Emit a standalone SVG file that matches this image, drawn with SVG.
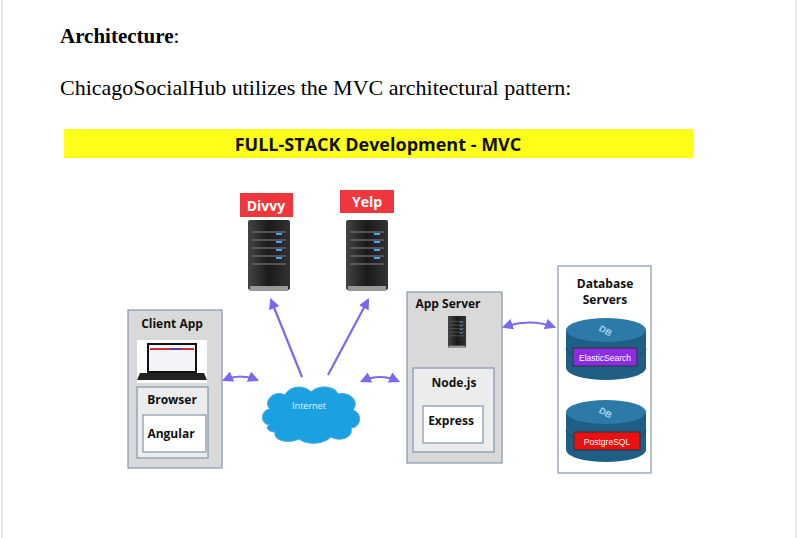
<svg xmlns="http://www.w3.org/2000/svg" width="800" height="538" viewBox="0 0 800 538">
<defs>
<style>
.b{font-family:"Open Sans","Liberation Sans",sans-serif;font-weight:bold;fill:#111}
.box{fill:#d9d9d9;stroke:#8497b0;stroke-width:1.2}
.wb{fill:#fff;stroke:#8497b0;stroke-width:1.2}
.ar{stroke:#7b68ee;stroke-width:2.2;fill:none}
.lbl{fill:#f0373d}
</style>
<marker id="ah" viewBox="0 0 10 10" refX="8" refY="5" markerWidth="5" markerHeight="5" orient="auto-start-reverse"><path d="M0,0L10,5L0,10z" fill="#7b68ee"/></marker>
<linearGradient id="sv" x1="0" x2="1"><stop offset="0" stop-color="#444"/><stop offset="0.5" stop-color="#1a1a1a"/><stop offset="1" stop-color="#333"/></linearGradient>
<g id="srv">
<rect x="0" y="0" width="42" height="70" fill="url(#sv)" rx="2"/>
<path d="M4,12h34M4,20h34M4,28h34M4,36h34M4,44h34" stroke="#666" stroke-width="1.5"/>
<path d="M28,14h6M28,22h6M28,30h6M28,38h6" stroke="#3fa9f5" stroke-width="2"/>
<rect x="2" y="66" width="38" height="5" fill="#999"/>
</g>
<g id="cyl">
<path d="M0,12v38a40,12 0 0 0 80,0v-38z" fill="#1f5f86"/>
<ellipse cx="40" cy="12" rx="40" ry="12" fill="#2c7aa8"/>
<path d="M0,30a40,12 0 0 0 80,0" stroke="#174a6a" fill="none"/>
<text x="40" y="16" font-family="Liberation Sans,sans-serif" font-size="9" font-weight="bold" fill="#a9d3ee" text-anchor="middle" transform="rotate(30 40 12)">DB</text>
</g>
</defs>
<rect width="800" height="538" fill="#fff"/>
<path d="M2,0V538M796,0V538" stroke="#d0d0d0"/>
<text x="60" y="43" font-family="Liberation Serif,serif" font-size="21"><tspan font-weight="bold">Architecture</tspan>:</text>
<text x="60" y="95" font-family="Liberation Serif,serif" font-size="22">ChicagoSocialHub utilizes the MVC architectural pattern:</text>
<g id="title"><rect x="64" y="129" width="629" height="29" fill="#ffff1a"/>
<text x="378" y="151" class="b" font-size="18" text-anchor="middle">FULL-STACK Development - MVC</text></g>
<g id="divvy"><rect class="lbl" x="240" y="193" width="53" height="24"/><text x="266" y="211" font-family="Open Sans,Liberation Sans,sans-serif" font-weight="bold" font-size="14" fill="#fff" text-anchor="middle">Divvy</text>
<use href="#srv" x="248" y="220"/></g>
<g id="yelp"><rect class="lbl" x="340" y="190" width="54" height="23"/><text x="367" y="207" font-family="Open Sans,Liberation Sans,sans-serif" font-weight="bold" font-size="14" fill="#fff" text-anchor="middle">Yelp</text>
<use href="#srv" x="346" y="220"/></g>
<g id="client"><rect class="box" x="128" y="310" width="94" height="158"/>
<text x="172" y="328" class="b" font-size="12" text-anchor="middle">Client App</text>
<rect x="137" y="340" width="70" height="43" fill="#fff"/>
<path d="M147,343h50v30h-50z" fill="#111"/><rect x="149" y="345" width="46" height="26" fill="#f3f3f8"/>
<path d="M150,349h44" stroke="#c33" stroke-width="2"/><path d="M170,349h12" stroke="#639" stroke-width="2"/>
<path d="M140,373h64l3,7h-70z" fill="#222"/>
<rect class="wb" x="137" y="387" width="71" height="71" style="fill:#ececec"/>
<text x="172" y="404" class="b" font-size="12" text-anchor="middle">Browser</text>
<rect class="wb" x="143" y="415" width="63" height="37"/>
<text x="171" y="438" class="b" font-size="12" text-anchor="middle">Angular</text></g>
<g id="internet"><path d="M270,425c-10,0-10-15,0-16c-8-8,5-20,15-14c5-10,20-10,26-3c8-8,24-6,27,2c12-3,22,8,15,16c10,3,8,18-2,18c3,10-12,14-20,9c-8,8-25,8-32,2c-10,5-26,2-24-7c-8,0-10-6-5-7z" fill="#1ba1e2" stroke="#4aa8d8"/>
<text x="309" y="409" font-family="Open Sans,Liberation Sans,sans-serif" font-size="9" fill="#e8f6ff" text-anchor="middle">Internet</text></g>
<g id="app"><rect class="box" x="407" y="292" width="95" height="171"/>
<text x="448" y="308" class="b" font-size="12" text-anchor="middle">App Server</text>
<use href="#srv" transform="translate(448,316) scale(0.43,0.45)"/>
<rect class="wb" x="413" y="368" width="81" height="84" style="fill:#ececec"/>
<text x="454" y="387" class="b" font-size="12" text-anchor="middle">Node.js</text>
<rect class="wb" x="423" y="406" width="60" height="37"/>
<text x="451" y="425" class="b" font-size="12" text-anchor="middle">Express</text></g>
<g id="db"><rect class="wb" x="558" y="266" width="93" height="207"/>
<text x="605" y="288" class="b" font-size="12" text-anchor="middle">Database</text>
<text x="605" y="304" class="b" font-size="12" text-anchor="middle">Servers</text>
<use href="#cyl" x="566" y="318"/>
<rect x="573" y="348" width="64" height="18" fill="#8b2be2" stroke="#333"/>
<text x="605" y="361" font-family="Liberation Sans,sans-serif" font-size="8.5" fill="#fff" text-anchor="middle">ElasticSearch</text>
<use href="#cyl" x="566" y="400"/>
<rect x="574" y="432" width="66" height="18" fill="#e81010" stroke="#333"/>
<text x="607" y="445" font-family="Liberation Sans,sans-serif" font-size="8.5" fill="#fff" text-anchor="middle">PostgreSQL</text></g>
<g id="connectors">
<path class="ar" d="M302,377L271,300" marker-end="url(#ah)"/>
<path class="ar" d="M328,375L368,300" marker-end="url(#ah)"/>
<path class="ar" d="M224,380Q240,373 257,380" marker-start="url(#ah)" marker-end="url(#ah)"/>
<path class="ar" d="M362,381Q380,373 398,381" marker-start="url(#ah)" marker-end="url(#ah)"/>
<path class="ar" d="M504,327Q530,318 554,327" marker-start="url(#ah)" marker-end="url(#ah)"/>
</g>
</svg>
